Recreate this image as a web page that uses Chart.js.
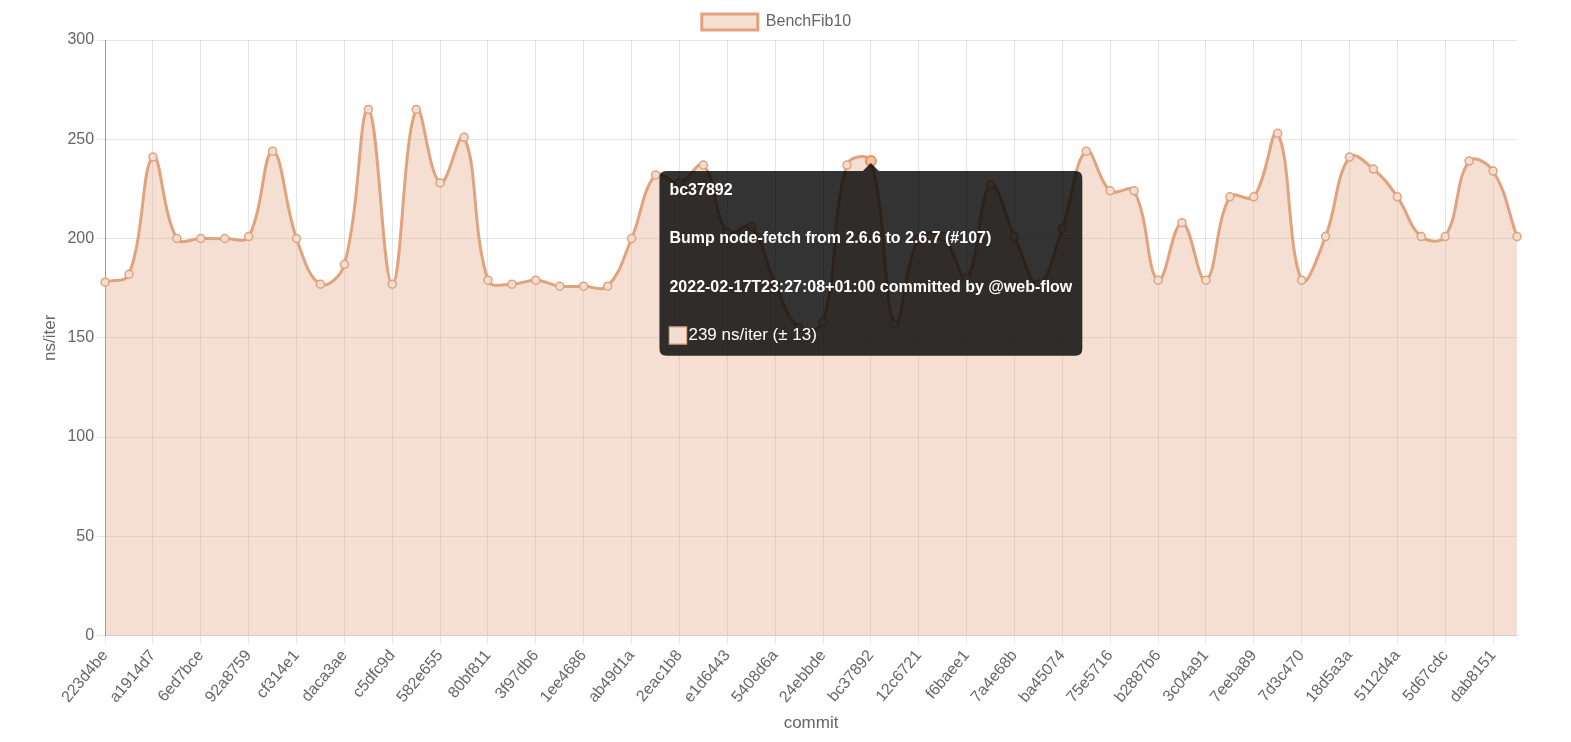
<!DOCTYPE html>
<html><head><meta charset="utf-8">
<script src="https://cdn.jsdelivr.net/npm/chart.js@4"></script>
<style>html,body{margin:0;padding:0;background:#fff}#w{width:1571px;height:742px}</style>
</head><body><div id="w"><canvas id="c"></canvas></div>
<script>
const commits = ['223d4be','9b1c2e0','a1914d7','4f0e8a1','6ed7bce','c83a5d2','92a8759','e07b614','cf314e1','15d9c7a','daca3ae','7be2f90','c5dfc9d','0a46e3b','582e655','d91f2c8','80bf811','b5e07a4','3f97db6','6c21d58','1ee4686','f4a8b03','ab49d1a','58d3e1c','2eac1b8','97f0c6d','e1d6443','3b7a92e','5408d6a','a6c1f07','24ebbde','8d52e4a','bc37892','1f9e6c3','12c6721','e7b40d9','f6baee1','2c85a1f','7a4e68b','d03f7c5','ba45074','61e9b2d','75e5716','c4a0d88','b2887b6','09f3e5a','3c04a91','8e6d27f','7eeba89','4b1f90c','7d3c470','a2e85d1','18d5a3a','f70c4b6','5112d4a','6d9a3e8','5d67cdc','bb2f17e','dab8151','0e4c6a9'];
const values = [178,182,241,200,200,200,201,244,200,177,187,265,177,265,228,251,179,177,179,176,176,176,200,232,228,237,203,206,177,155,158,237,239,157,200,201,180,227,201,177,205,244,224,224,179,208,179,221,221,253,179,201,241,235,221,201,201,239,234,201];
const yTicksMax = 300;
const seriesName = 'BenchFib10';
const activeIndex = 32;
const tipTitle = ['bc37892','','Bump node-fetch from 2.6.6 to 2.6.7 (#107)','','2022-02-17T23:27:08+01:00 committed by @web-flow',''];
const tipBody = '239 ns/iter (± 13)';

Chart.defaults.font.family = '"Liberation Sans", Arial, sans-serif';
Chart.defaults.color = '#666';
const chart = new Chart(document.getElementById('c'), {
  type: 'line',
  data: { labels: commits, datasets: [{
    label: seriesName, data: values,
    borderColor: '#e0a37e', backgroundColor: 'rgba(224,163,126,0.35)',
    borderWidth: 3, fill: true, tension: 0.4,
    pointRadius: 4, pointBackgroundColor: 'rgba(242,221,209,1)', pointBorderColor: '#e0a37e', pointBorderWidth: 1.5,
    pointHoverRadius: 5, pointHoverBackgroundColor: '#f4c4a4', pointHoverBorderColor: '#f0905a', pointHoverBorderWidth: 2
  }]},
  options: {
    responsive: true, maintainAspectRatio: false, animation: false,
    layout: { padding: { right: 54, left: 36, top: 4, bottom: 4 } },
    plugins: {
      legend: { labels: { font: { size: 16 }, boxWidth: 56, boxHeight: 16 } },
      tooltip: {
        backgroundColor: 'rgba(0,0,0,0.8)', padding: 10, caretSize: 8, cornerRadius: 7,
        yAlign: 'top', xAlign: 'center',
        titleFont: { size: 16, weight: 'bold' }, titleSpacing: 5, titleMarginBottom: 4,
        bodyFont: { size: 17 }, boxWidth: 17, boxHeight: 17,
        callbacks: { title: () => tipTitle, label: () => tipBody }
      }
    },
    scales: {
      x: { title: { display: true, text: 'commit', font: { size: 17 } },
           grid: { color: 'rgba(0,0,0,0.1)' },
           ticks: { font: { size: 16 }, maxRotation: 50, minRotation: 50, autoSkip: true, maxTicksLimit: 30 } },
      y: { min: 0, max: yTicksMax, title: { display: true, text: 'ns/iter', font: { size: 17 } },
           grid: { color: 'rgba(0,0,0,0.1)' }, border: { color: '#999' },
           ticks: { stepSize: 50, font: { size: 16 } } }
    }
  }
});
chart.setActiveElements([{ datasetIndex: 0, index: activeIndex }]);
const el = chart.getDatasetMeta(0).data[activeIndex];
chart.tooltip.setActiveElements([{ datasetIndex: 0, index: activeIndex }], { x: el.x, y: el.y });
chart.update();
</script></body></html>
